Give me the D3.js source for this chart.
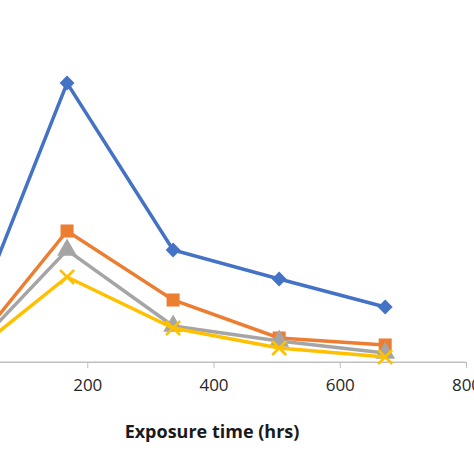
<!DOCTYPE html><html><head><script src="https://cdn.jsdelivr.net/npm/d3@7"></script>
<style>body{margin:0;background:#fff}</style></head><body><svg width="474" height="474"></svg>
<script>
const hours=[0,168,336,504,672];
const blue=[1.1,27.9,11.2,8.3,5.5];
const orange=[0,13.1,6.2,2.4,1.7];
const gray=[0,11.2,3.6,2.1,0.9];
const yellow=[0,8.5,3.4,1.4,0.5];
const xTicks=[200,400,600,800];
const series=[{v:blue,c:"#4472C4",m:"diamond"},{v:orange,c:"#ED7D31",m:"square"},{v:gray,c:"#A5A5A5",m:"triangle"},{v:yellow,c:"#FFC000",m:"x"}];
const svg=d3.select("svg");
const x=d3.scaleLinear().domain([0,800]).range([-39,466]);
const y=d3.scaleLinear().domain([0,36.2]).range([362,0]);
const ax=svg.append("g").attr("transform","translate(0,362)").call(d3.axisBottom(x).tickValues(xTicks).tickSize(6).tickSizeOuter(0).tickFormat(d3.format("d")));
ax.select(".domain").attr("stroke","#bfbfbf");
ax.selectAll(".tick line").attr("stroke","#bfbfbf");
ax.selectAll("text").attr("font-family","Open Sans, sans-serif").attr("font-size",17).attr("fill","#262626").attr("dy","1.2em");
svg.append("line").attr("x1",0).attr("x2",x(800)).attr("y1",362).attr("y2",362).attr("stroke","#bfbfbf");
svg.append("text").attr("x",212).attr("y",438).attr("text-anchor","middle").attr("font-family","Open Sans, sans-serif").attr("font-weight","bold").attr("font-size",18).attr("fill","#1a1a1a").text("Exposure time (hrs)");
const line=d3.line().x((d,i)=>x(hours[i])).y(d=>y(d));
series.forEach(s=>{
 svg.append("path").attr("d",line(s.v)).attr("fill","none").attr("stroke",s.c).attr("stroke-width",3.5);
 s.v.forEach((d,i)=>{
  const g=svg.append("g").attr("transform",`translate(${x(hours[i])},${y(d)})`);
  if(s.m==="x") g.append("path").attr("d","M-7,-7L7,7M-7,7L7,-7").attr("stroke",s.c).attr("stroke-width",2.5);
  else if(s.m==="diamond") g.append("path").attr("d",d3.symbol(d3.symbolSquare,110)()).attr("transform","rotate(45)").attr("fill",s.c);
  else g.append("path").attr("d",d3.symbol(s.m==="square"?d3.symbolSquare:d3.symbolTriangle,170)()).attr("fill",s.c);
 });
});
</script></body></html>
